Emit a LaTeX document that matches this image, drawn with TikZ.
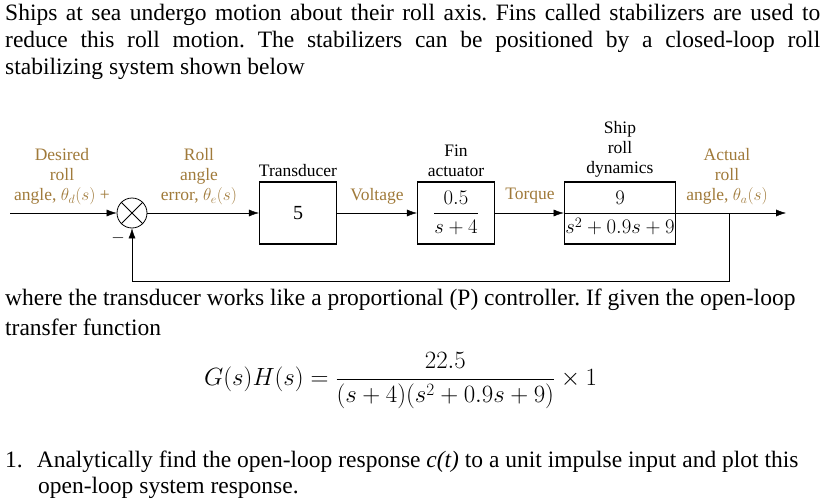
\documentclass[tikz,border=0pt]{standalone}
\usepackage{fontspec}
\setmainfont{Liberation Serif}
\usepackage{amsmath}
\usetikzlibrary{positioning,arrows.meta}
\definecolor{lblbrown}{HTML}{A07A3A}
\tikzset{
  block/.style={draw,line width=1.2pt,minimum width=77pt,minimum height=62pt,inner sep=0pt,font=\fontsize{20}{22}\selectfont},
  lbl/.style={align=center,font=\fontsize{17.5}{20}\selectfont},
  sig/.style={lbl,text=lblbrown},
  para/.style={anchor=west,inner sep=0pt,font=\fontsize{23.5}{26}\selectfont\frenchspacing},
  >={Latex[length=10pt,width=7pt]}
}
\begin{document}
\begin{tikzpicture}[x=1pt,y=-1pt]
   \useasboundingbox (0,0) rectangle (824,503);
   % problem statement
   \node[para] (t1) at (5,15) {\makebox[815pt][s]{Ships at sea undergo motion about their roll axis. Fins called stabilizers are used to}};
   \node[para] (t2) at (5,42) {\makebox[815pt][s]{reduce this roll motion. The stabilizers can be positioned by a closed-loop roll}};
   \node[para] (t3) at (5,69) {stabilizing system shown below};

   % block diagram
   \node[draw,circle,thick,minimum size=30pt,inner sep=0pt] (sum) at (132,213) {};
   \draw[thick] (sum.45) -- (sum.225) (sum.135) -- (sum.315);
   \coordinate (in) at (10,213);
   \node[block] (trans) at (298,213) {5};
   \node[block] (fin) at (456,213) {$\dfrac{0.5}{s+4}$};
   \node[block,minimum width=106pt] (ship) at (620,213) {$\dfrac{9}{s^2+0.9s+9}$};
   \coordinate (out) at (786,213);
   \coordinate (tap) at (729,213);
   \coordinate (fb) at (729,281);
   \coordinate (fbl) at (132,281);

   \draw[->] (in) -- (sum);
   \draw[->] (sum) -- (trans);
   \draw[->] (trans) -- (fin);
   \draw[->] (fin) -- (ship);
   \draw[->] (ship) -- (out);
   \draw[->] (tap) -- (fb) -- (fbl) -- (sum);

   \node[sig] (des) at (62,177) {Desired\\roll\\angle, $\theta_d(s)$ +};
   \node[lbl] (minus) at (118,238) {$-$};
   \node[sig] (err) at (199,177) {Roll\\angle\\error, $\theta_e(s)$};
   \node[lbl,above=1pt of trans] (tl) {Transducer};
   \node[sig] (volt) at (377,196) {Voltage};
   \node[lbl,above=1pt of fin] (fl) {Fin\\actuator};
   \node[sig] (torq) at (530,196) {Torque};
   \node[lbl,above=1pt of ship] (sl) {Ship\\roll\\dynamics};
   \node[sig] (act) at (727,177) {Actual\\roll\\angle, $\theta_a(s)$};

   % rest of the text
   \node[para] (t4) at (5,300) {where the transducer works like a proportional (P) controller. If given the open-loop};
   \node[para] (t5) at (5,327) {transfer function};
   \node[anchor=west,inner sep=0pt,font=\fontsize{26.5}{29}\selectfont] (eq) at (204,381)
     {$G(s)H(s)=\dfrac{22.5}{(s+4)(s^2+0.9s+9)}\times 1$};
   \node[para] (t6) at (5,462) {1.\hspace{14pt}Analytically find the open-loop response \textit{c(t)} to a unit impulse input and plot this};
   \node[para] (t7) at (38,488) {open-loop system response.};
\end{tikzpicture}
\end{document}
